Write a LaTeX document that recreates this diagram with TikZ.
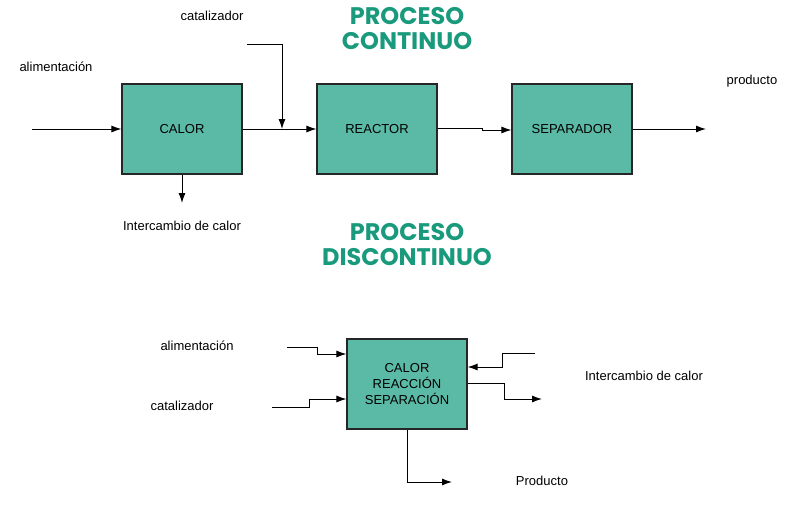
\documentclass[tikz,border=0pt]{standalone}
\usepackage{fontspec}
\setmainfont{Liberation Sans}
\newfontfamily\titlefont{Poppins}
\usetikzlibrary{arrows.meta}
\definecolor{boxfill}{HTML}{5BBAA6}
\definecolor{ttl}{HTML}{1A9A7C}
\begin{document}
\begin{tikzpicture}[x=1pt,y=-1pt,
  box/.style={draw=black!85,line width=1.2pt,fill=boxfill,minimum width=120pt,minimum height=90pt,inner sep=0pt,font=\fontsize{13}{16}\selectfont,align=center},
  lbl/.style={font=\fontsize{13}{16}\selectfont},
  ttl/.style={font=\titlefont\bfseries\fontsize{24}{25}\selectfont,text=ttl},
  arr/.style={line width=1pt,-{Latex[length=10pt,width=7pt]}},
  ln/.style={line width=1pt}]
\path[use as bounding box] (0,0) rectangle (806,506);
\node[box] (calor) at (182,129) {CALOR};
\node[box] (reactor) at (377,129) {REACTOR};
\node[box] (sep) at (572,129) {SEPARADOR};
\node[box] (crs) at (407,384) {CALOR\\REACCIÓN\\SEPARACIÓN};
\node[lbl] (alim) at (56,67) {alimentación};
\node[lbl] (cat) at (212,16) {catalizador};
\node[lbl] (prod) at (752,81) {producto};
\node[lbl] (inter) at (182,226) {Intercambio de calor};
\node[ttl] (t1) at (407,16) {PROCESO};
\node[ttl] (t2) at (407,41) {CONTINUO};
\node[ttl] (t3) at (407,232) {PROCESO};
\node[ttl] (t4) at (407,257) {DISCONTINUO};
\node[lbl] (alim2) at (197,346) {alimentación};
\node[lbl] (cat2) at (182,406) {catalizador};
\node[lbl] (inter2) at (644,376) {Intercambio de calor};
\node[lbl] (prod2) at (542,481) {Producto};
\coordinate (a0) at (32,129);
\coordinate (c0) at (247,44);
\coordinate (cj) at (282,129);
\coordinate (o1) at (706,129);
\coordinate (h1) at (182,203);
\draw[arr] (a0) -- (calor.west|-a0);
\draw[arr] (calor.east|-a0) -- (reactor.west|-a0);
\draw[arr] (c0) -| (cj);
\draw[arr] (reactor.east|-0,128) -- (482,128) -- (482,130) -- (sep.west|-0,130);
\draw[arr] (sep.east|-o1) -- (o1);
\draw[arr] (calor.south-|h1) -- (h1);
\coordinate (b1) at (287,347);
\draw[arr] (b1) -- (317,347) -- (317,354) -- (crs.west|-0,354);
\coordinate (b2) at (272,407);
\draw[arr] (b2) -- (309,407) -- (309,399) -- (crs.west|-0,399);
\coordinate (b3) at (535,353);
\draw[arr] (b3) -- (502,353) -- (502,367) -- (crs.east|-0,367);
\coordinate (b4) at (542,399);
\draw[arr] (crs.east|-0,383) -- (504,383) -- (504,399) -- (b4);
\coordinate (b5) at (452,482);
\draw[arr] (crs.south) |- (b5);
\end{tikzpicture}
\end{document}
